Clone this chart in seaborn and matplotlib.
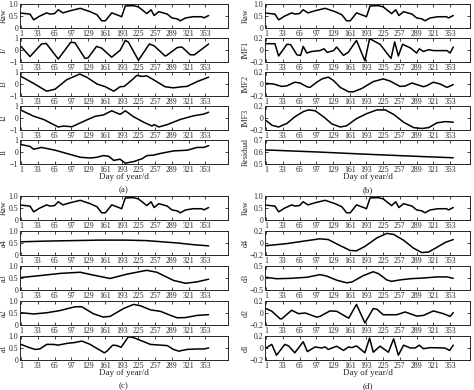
import matplotlib
matplotlib.use("Agg")
import matplotlib.pyplot as plt
import seaborn as sns

# raw series, shared by the four panels
raw_days = [1, 18, 25, 37, 50, 56, 65, 72, 81, 95, 114, 133, 146, 155, 162, 174, 184, 193,
            200, 216, 225, 241, 249, 255, 264, 280, 289, 299, 305, 315, 330, 346, 350, 359]
raw_vals = [0.62, 0.58, 0.34, 0.5, 0.63, 0.58, 0.6, 0.76, 0.63, 0.72, 0.82, 0.68, 0.55, 0.3,
            0.3, 0.63, 0.55, 0.47, 0.92, 0.93, 0.88, 0.6, 0.76, 0.52, 0.68, 0.58, 0.42, 0.38,
            0.3, 0.42, 0.47, 0.47, 0.42, 0.52]

# panel (a)
i7_days = [1, 18, 40, 49, 72, 96, 104, 123, 129, 145, 155, 174, 190, 200, 206, 225, 246, 255,
           276, 279, 299, 308, 324, 332, 359]
i7_vals = [0.3, -0.55, 0.5, 0.55, -0.75, 0.65, 0.6, -0.7, -0.65, 0.3, 0.15, -0.6, -0.03, 0.8,
           0.65, -0.85, 0.5, 0.35, -0.5, -0.45, 0.2, 0.25, -0.4, -0.4, 0.5]
i3_days = [1, 25, 50, 66, 88, 113, 127, 146, 162, 178, 190, 198, 213, 222, 232, 241, 254, 276,
           292, 308, 318, 337, 359]
i3_vals = [0.63, 0.05, -0.6, -0.43, 0.35, 0.83, 0.55, 0.0, -0.23, -0.6, -0.23, -0.2, 0.35,
           0.72, 0.63, 0.68, 0.35, -0.23, -0.32, -0.23, -0.2, 0.2, 0.57]
i2_days = [1, 25, 44, 72, 82, 98, 127, 143, 158, 174, 190, 200, 216, 235, 251, 255, 264, 280,
           305, 330, 350, 359]
i2_vals = [0.65, 0.15, -0.12, -0.75, -0.67, -0.73, -0.15, 0.15, 0.25, 0.6, 0.3, 0.6, 0.1,
           -0.35, -0.67, -0.55, -0.75, -0.55, -0.12, 0.18, 0.33, 0.48]
i1_days = [1, 18, 25, 40, 66, 88, 114, 133, 146, 158, 168, 178, 190, 200, 216, 232, 241, 254,
           267, 292, 318, 337, 350, 359]
i1_vals = [0.62, 0.47, 0.23, 0.38, 0.15, -0.12, -0.44, -0.5, -0.44, -0.3, -0.35, -0.7, -0.6,
           -0.93, -0.8, -0.56, -0.3, -0.26, -0.12, 0.09, 0.15, 0.38, 0.38, 0.53]

# panel (b)
imf1_days = [1, 18, 25, 41, 48, 60, 67, 72, 79, 88, 104, 112, 118, 130, 136, 149, 158, 174,
             190, 199, 219, 240, 247, 254, 262, 277, 289, 294, 302, 312, 321, 347, 353, 359]
imf1_vals = [0.105, 0.105, -0.1, 0.095, 0.09, -0.08, -0.09, 0.06, -0.05, -0.025, -0.01, 0.02,
             -0.04, -0.01, 0.05, -0.09, -0.04, 0.16, -0.18, 0.19, 0.095, -0.14, 0.135, -0.1,
             0.095, 0.035, -0.05, 0.02, -0.025, 0.005, -0.01, -0.01, -0.05, 0.05]
imf2_days = [1, 15, 31, 41, 56, 66, 79, 85, 98, 108, 120, 130, 143, 159, 168, 184, 206, 225,
             238, 257, 267, 280, 292, 302, 308, 321, 334, 347, 359]
imf2_vals = [0.01, 0.0, -0.04, -0.03, 0.03, 0.017, -0.045, -0.057, 0.03, 0.085, 0.115, 0.057,
             -0.057, -0.13, -0.13, -0.075, 0.04, 0.085, 0.05, -0.04, -0.034, 0.017, -0.017,
             -0.045, -0.03, 0.03, 0.0, -0.057, -0.01]
imf3_days = [1, 12, 25, 41, 56, 72, 82, 95, 111, 127, 143, 155, 174, 194, 213, 229, 245, 264,
             283, 299, 312, 328, 344, 359]
imf3_vals = [-0.04, -0.12, -0.15, -0.09, 0.02, 0.105, 0.135, 0.12, 0.02, -0.1, -0.15, -0.13,
             -0.01, 0.075, 0.135, 0.135, 0.06, -0.07, -0.16, -0.175, -0.16, -0.08, -0.06, -0.07]
res_days = [1, 100, 200, 300, 359]
res_vals = [0.617, 0.6, 0.58, 0.562, 0.552]

# panel (c)
a4_days = [1, 50, 100, 150, 200, 240, 270, 300, 330, 359]
a4_vals = [0.55, 0.58, 0.6, 0.62, 0.62, 0.6, 0.55, 0.5, 0.43, 0.38]
a3_days = [1, 37, 75, 114, 139, 171, 203, 241, 260, 292, 315, 337, 359]
a3_vals = [0.52, 0.6, 0.69, 0.74, 0.62, 0.48, 0.66, 0.82, 0.74, 0.4, 0.28, 0.34, 0.45]
a2_days = [1, 25, 50, 75, 104, 117, 139, 158, 171, 197, 216, 229, 248, 267, 283, 299, 315,
           337, 359]
a2_vals = [0.51, 0.46, 0.51, 0.6, 0.76, 0.76, 0.47, 0.33, 0.36, 0.69, 0.86, 0.8, 0.63, 0.57,
           0.43, 0.3, 0.31, 0.4, 0.43]
a1_days = [1, 15, 28, 37, 50, 63, 72, 88, 104, 117, 133, 149, 160, 165, 176, 184, 192, 206,
           216, 232, 248, 267, 280, 292, 302, 318, 337, 350, 359]
a1_vals = [0.65, 0.53, 0.44, 0.46, 0.65, 0.65, 0.62, 0.69, 0.73, 0.79, 0.65, 0.44, 0.3, 0.37,
           0.62, 0.6, 0.53, 0.97, 0.93, 0.79, 0.65, 0.62, 0.6, 0.44, 0.37, 0.44, 0.46, 0.46, 0.5]

# panel (d)
d4_days = [1, 41, 72, 104, 120, 143, 162, 174, 190, 213, 232, 245, 264, 283, 299, 312, 328,
           344, 359]
d4_vals = [-0.045, -0.01, 0.03, 0.07, 0.057, -0.045, -0.125, -0.13, -0.057, 0.085, 0.16,
           0.143, 0.046, -0.086, -0.16, -0.15, -0.07, 0.011, 0.057]
d3_days = [1, 21, 47, 79, 104, 117, 136, 155, 165, 187, 206, 216, 232, 241, 257, 277, 302,
           328, 347, 359]
d3_vals = [0.03, -0.03, -0.015, 0.03, 0.14, 0.08, -0.09, -0.2, -0.17, 0.1, 0.26, 0.18, -0.08,
           -0.14, -0.08, -0.03, 0.0, 0.045, 0.045, -0.015]
d2_days = [1, 12, 28, 31, 50, 63, 76, 98, 104, 123, 136, 159, 174, 190, 206, 213, 225, 251,
           267, 289, 302, 321, 340, 353, 359]
d2_vals = [0.074, 0.03, -0.097, -0.097, 0.046, -0.011, 0.0, -0.069, -0.057, 0.034, 0.029,
           -0.086, 0.143, -0.166, 0.074, 0.063, -0.029, -0.029, 0.017, -0.051, -0.04, 0.034,
           -0.011, -0.057, 0.006]
d1_days = [1, 12, 21, 37, 44, 56, 72, 80, 95, 107, 114, 120, 136, 149, 159, 165, 174, 190,
           199, 206, 219, 235, 245, 254, 264, 277, 286, 294, 302, 315, 343, 352, 359]
d1_vals = [0.0, 0.06, -0.12, 0.06, 0.035, -0.08, 0.105, -0.06, 0.018, 0.0, 0.018, -0.024,
           0.03, -0.04, 0.018, 0.006, 0.035, -0.08, 0.165, -0.07, 0.03, -0.07, 0.153, -0.12,
           0.047, 0.0, 0.0, 0.047, -0.012, 0.006, 0.0, -0.04, 0.047]

x_ticks = [1, 33, 65, 97, 129, 161, 193, 225, 257, 289, 321, 353]

# y axis settings: limits, ticks, labels
unit = ((0, 1), [0, 0.5, 1], ["0", "0.5", "1.0"])
one = ((-1, 1), [-1, 0, 1], ["\u22121", "0", "1"])
small = ((-0.2, 0.2), [-0.2, 0, 0.2], ["\u22120.2", "0", "0.2"])
half = ((-0.5, 0.5), [-0.5, 0, 0.5], ["\u22120.5", "0", "0.5"])
resid = ((0.5, 0.7), [0.5, 0.6, 0.7], ["0.5", "0.6", "0.7"])

W, H = 474, 390


def draw_panel(fig, left, width, top0, step, xmax, lab_x, series, letter):
    h = 24
    for i, (name, d, v, ycfg) in enumerate(series):
        top = top0 + step * i
        ax = fig.add_axes([left / W, 1 - (top + h) / H, width / W, h / H])
        sns.lineplot(x=d, y=v, ax=ax, color="black", lw=1.1, sort=False, errorbar=None)
        ax.set_xlim(-1, xmax)
        ax.set_xticks(x_ticks)
        ax.set_xticklabels([str(t) for t in x_ticks])
        ax.set_ylim(*ycfg[0])
        ax.set_yticks(ycfg[1])
        ax.set_yticklabels(ycfg[2])
        ax.set_xlabel("")
        ax.set_ylabel(name, fontsize=5.8, labelpad=1)
        ax.yaxis.set_label_coords(lab_x, 0.5)
        ax.tick_params(direction="in", length=2, width=0.6, top=True, right=True,
                       labelsize=5.6, pad=1.2)
        for s in ax.spines.values():
            s.set_linewidth(0.7)
    cx = (left + width / 2) / W
    ybot = top0 + step * 4 + h
    fig.text(cx, 1 - (ybot + 13) / H, "Day of year/d", ha="center", va="center", fontsize=6.5)
    fig.text(cx, 1 - (ybot + 26) / H, letter, ha="center", va="center", fontsize=6.5)


sns.set_theme(style="ticks")
plt.rcParams["font.family"] = ["Liberation Serif", "DejaVu Serif"]
plt.rcParams["axes.unicode_minus"] = True

fig = plt.figure(figsize=(W / 100, H / 100), dpi=100)

panel_a = [("Raw", raw_days, raw_vals, unit), ("I7", i7_days, i7_vals, one),
           ("I3", i3_days, i3_vals, one), ("I2", i2_days, i2_vals, one),
           ("I1", i1_days, i1_vals, one)]
panel_b = [("Raw", raw_days, raw_vals, unit), ("IMF1", imf1_days, imf1_vals, small),
           ("IMF2", imf2_days, imf2_vals, small), ("IMF3", imf3_days, imf3_vals, small),
           ("Residual", res_days, res_vals, resid)]
panel_c = [("Raw", raw_days, raw_vals, unit), ("a4", a4_days, a4_vals, unit),
           ("a3", a3_days, a3_vals, unit), ("a2", a2_days, a2_vals, unit),
           ("a1", a1_days, a1_vals, unit)]
panel_d = [("Raw", raw_days, raw_vals, unit), ("d4", d4_days, d4_vals, small),
           ("d3", d3_days, d3_vals, half), ("d2", d2_days, d2_vals, small),
           ("d1", d1_days, d1_vals, small)]

draw_panel(fig, 20, 208, 4, 34, 396, -0.058, panel_a, "(a)")
draw_panel(fig, 265, 205, 4, 34, 391, -0.075, panel_b, "(b)")
draw_panel(fig, 20, 208, 196, 35, 396, -0.058, panel_c, "(c)")
draw_panel(fig, 265, 205, 196, 35, 391, -0.075, panel_d, "(d)")

fig.savefig("out.png", dpi=100)
